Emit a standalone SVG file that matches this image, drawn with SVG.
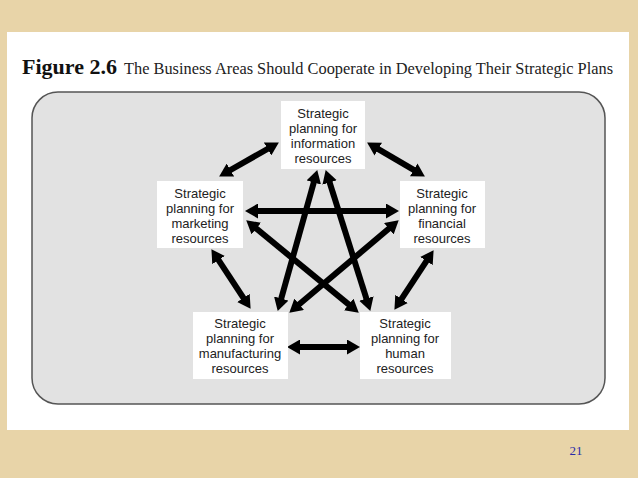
<svg xmlns="http://www.w3.org/2000/svg" width="638" height="478" viewBox="0 0 638 478">
<defs>
<style>
.bg{fill:#e8d4a8}
.panel{fill:#ffffff}
.area{fill:#e2e2e2;stroke:#555;stroke-width:1.5}
.box{fill:#ffffff}
.lbl{font-family:"Liberation Sans",Arial,sans-serif;font-size:13px;fill:#222;text-anchor:middle}
.conn line{stroke:#000;stroke-width:6;marker-start:url(#ah);marker-end:url(#ah)}
</style>
<marker id="ah" viewBox="0 0 13 15" refX="5" refY="7.5" markerWidth="13" markerHeight="15" markerUnits="userSpaceOnUse" orient="auto-start-reverse">
<path d="M0,0 L13,7.5 L0,15 z" fill="#000"/>
</marker>
</defs>
<rect class="bg" x="0" y="0" width="638" height="478"/>
<rect class="panel" x="7" y="32" width="622" height="398"/>
<text x="22" y="74" font-family="'Liberation Serif','Times New Roman',serif" font-size="22" font-weight="bold" fill="#111">Figure 2.6</text>
<text x="124" y="74" font-family="'Liberation Serif','Times New Roman',serif" font-size="17" fill="#222" textLength="489" lengthAdjust="spacingAndGlyphs">The Business Areas Should Cooperate in Developing Their Strategic Plans</text>
<rect class="area" x="32" y="92" width="573" height="312" rx="26" ry="26"/>
<g class="conn" id="connectors">
<line x1="271.9" y1="146.5" x2="226.1" y2="172.5"/>
<line x1="374" y1="146.6" x2="418" y2="172.4"/>
<line x1="253" y1="211" x2="391" y2="211"/>
<line x1="252.4" y1="225.4" x2="352.6" y2="307.6"/>
<line x1="392.6" y1="225.5" x2="295.4" y2="307.5"/>
<line x1="315.1" y1="177.7" x2="279.9" y2="303.3"/>
<line x1="328.1" y1="177.7" x2="367.9" y2="303.3"/>
<line x1="215.8" y1="255.9" x2="246.2" y2="302.1"/>
<line x1="429.2" y1="256.9" x2="398.8" y2="303.1"/>
<line x1="295" y1="347" x2="352" y2="347"/>
</g>
<g id="info">
<rect class="box" x="281" y="101" width="84" height="68"/>
<text class="lbl" x="323" y="118">Strategic</text>
<text class="lbl" x="323" y="133">planning for</text>
<text class="lbl" x="323" y="148">information</text>
<text class="lbl" x="323" y="163">resources</text>
</g>
<g id="marketing">
<rect class="box" x="157" y="181" width="86" height="67"/>
<text class="lbl" x="200" y="198">Strategic</text>
<text class="lbl" x="200" y="213">planning for</text>
<text class="lbl" x="200" y="228">marketing</text>
<text class="lbl" x="200" y="243">resources</text>
</g>
<g id="financial">
<rect class="box" x="400" y="181" width="85" height="67"/>
<text class="lbl" x="442" y="198">Strategic</text>
<text class="lbl" x="442" y="213">planning for</text>
<text class="lbl" x="442" y="228">financial</text>
<text class="lbl" x="442" y="243">resources</text>
</g>
<g id="manufacturing">
<rect class="box" x="193" y="312" width="95" height="67"/>
<text class="lbl" x="240" y="328">Strategic</text>
<text class="lbl" x="240" y="343">planning for</text>
<text class="lbl" x="240" y="358">manufacturing</text>
<text class="lbl" x="240" y="373">resources</text>
</g>
<g id="human">
<rect class="box" x="360" y="312" width="91" height="67"/>
<text class="lbl" x="405" y="328">Strategic</text>
<text class="lbl" x="405" y="343">planning for</text>
<text class="lbl" x="405" y="358">human</text>
<text class="lbl" x="405" y="373">resources</text>
</g>
<text x="576" y="455" font-family="'Liberation Serif','Times New Roman',serif" font-size="13" fill="#2a2aa8" text-anchor="middle">21</text>
</svg>
